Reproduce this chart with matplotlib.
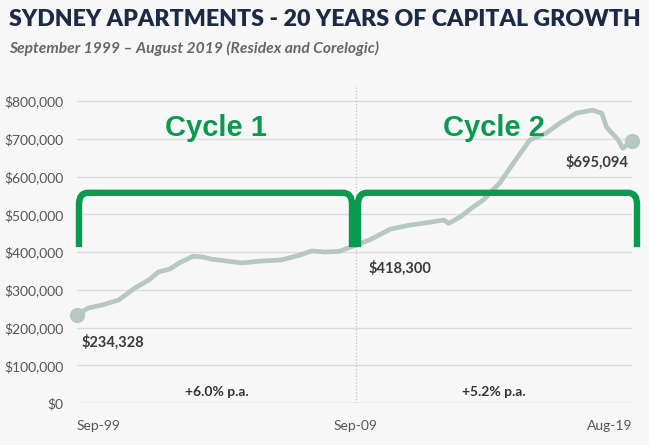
import matplotlib
matplotlib.use("Agg")
import matplotlib.pyplot as plt
import matplotlib.dates as mdates
from matplotlib.path import Path
from matplotlib.patches import PathPatch
import pandas as pd

# ---------------- data ----------------
dates = ["1999-09", "2000-02", "2000-08", "2001-03", "2001-10", "2002-04", "2002-08",
         "2003-01", "2003-05", "2003-11", "2004-03", "2004-07", "2004-10", "2005-08",
         "2006-04", "2007-01", "2007-09", "2008-02", "2008-08", "2009-02", "2009-09",
         "2010-03", "2010-12", "2011-08", "2012-05", "2012-11", "2013-01", "2013-06",
         "2013-11", "2014-04", "2014-08", "2014-11", "2015-05", "2015-12", "2016-07",
         "2017-01", "2017-08", "2018-03", "2018-07", "2018-09", "2019-02", "2019-04",
         "2019-08"]
values = [234328, 252000, 260000, 273000, 305000, 326000, 347000,
          355000, 371000, 389000, 387000, 381000, 379000, 371000,
          376000, 379000, 392000, 403000, 400000, 402000, 418300,
          432000, 461000, 471000, 479000, 485000, 476000, 493000,
          517000, 538000, 564000, 583000, 636000, 697000, 715000,
          742000, 768000, 776000, 768000, 731000, 697000, 675000,
          695094]

x_tick_dates = ["1999-09", "2009-09", "2019-08"]
x_tick_labels = ["Sep-99", "Sep-09", "Aug-19"]
y_ticks = [0, 100000, 200000, 300000, 400000, 500000, 600000, 700000, 800000]

cycle_names = ["Cycle 1", "Cycle 2"]
cycle_starts = ["1999-09", "2009-09"]
cycle_ends = ["2009-09", "2019-08"]
growth_labels = ["+6.0% p.a.", "+5.2% p.a."]

point_labels = ["$234,328", "$418,300", "$695,094"]
point_dates = ["1999-09", "2009-09", "2019-08"]
point_values = [234328, 418300, 695094]

# ---------------- styling ----------------
BG = "#f7f7f7"
LINE = "#b6c9c1"
GREEN = "#0a9a4f"
NAVY = "#1b2b45"
FONT = ["Lato", "DejaVu Sans"]

dt = pd.to_datetime(dates)
xnum = mdates.date2num(dt)
xt = mdates.date2num(pd.to_datetime(x_tick_dates))
pdates = mdates.date2num(pd.to_datetime(point_dates))

fig = plt.figure(figsize=(6.49, 4.45), dpi=100, facecolor=BG)
ax = fig.add_axes([77 / 649, 42 / 445, (632 - 77) / 649, (403 - 86) / 445])
ax.set_facecolor(BG)

ax.set_xlim(xnum[0], xnum[-1])
ax.set_ylim(0, 840000)

for s in ax.spines.values():
    s.set_visible(False)

ax.set_yticks(y_ticks)
ax.set_yticklabels(["${:,.0f}".format(v) for v in y_ticks], fontfamily=FONT,
                   fontsize=10, color="#555555")
ax.tick_params(axis="y", length=0, pad=10)
for v in y_ticks:
    ax.axhline(v, color="#dcdcdc" if v else "#c8c8c8", lw=1.0, zorder=1)

ax.set_xticks(xt)
ax.set_xticklabels(x_tick_labels, fontfamily=FONT, fontsize=10, color="#555555")
ax.tick_params(axis="x", length=0, pad=12)
tl = ax.get_xticklabels()
tl[0].set_ha("left")
tl[2].set_ha("right")

# dotted divider
ax.axvline(xt[1], color="#c4c4c4", lw=0.9, ls=":", zorder=1, ymin=0, ymax=1)

# main line
ax.plot(xnum, values, color=LINE, lw=3.4, solid_capstyle="round",
        solid_joinstyle="round", zorder=3)
ax.plot([xnum[0], xnum[-1]], [values[0], values[-1]], "o", color=LINE,
        ms=10, zorder=4, clip_on=False)

# brackets
def bracket(x0, x1, ybot, ytop, rx, ry):
    verts = [(x0, ybot), (x0, ytop - ry), (x0, ytop), (x0 + rx, ytop),
             (x1 - rx, ytop), (x1, ytop), (x1, ytop - ry), (x1, ybot)]
    codes = [Path.MOVETO, Path.LINETO, Path.CURVE3, Path.CURVE3,
             Path.LINETO, Path.CURVE3, Path.CURVE3, Path.LINETO]
    return Path(verts, codes)

day_px = (632 - 77) / (xnum[-1] - xnum[0])
b_top, b_bot = 557000, 413000
b_x = [(79, 352), (358, 637)]
for (p0, p1) in b_x:
    x0 = xnum[0] + (p0 - 77) / day_px
    x1 = xnum[0] + (p1 - 77) / day_px
    patch = PathPatch(bracket(x0, x1, b_bot, b_top, 9 / day_px, 30000),
                      facecolor="none", edgecolor=GREEN, lw=4.6,
                      capstyle="butt", joinstyle="round", zorder=5, clip_on=False)
    ax.add_patch(patch)

cs = mdates.date2num(pd.to_datetime(cycle_starts))
ce = mdates.date2num(pd.to_datetime(cycle_ends))
for name, a, b in zip(cycle_names, cs, ce):
    ax.text((a + b) / 2, 728000, name, ha="center", va="center",
            fontfamily=["Liberation Sans", "DejaVu Sans"], fontweight="bold",
            fontsize=21, color=GREEN, zorder=6)
for g, a, b in zip(growth_labels, cs, ce):
    ax.text((a + b) / 2, 28000, g, ha="center", va="center", fontfamily=FONT,
            fontweight="bold", fontsize=10, color="#333333", zorder=6)

# point labels
ax.text(pdates[0] + 5 / day_px, point_values[0] - 73000, point_labels[0],
        ha="left", va="center", fontfamily=FONT, fontweight="bold",
        fontsize=10.5, color="#3a3a3a")
ax.text(pdates[1] + 13 / day_px, point_values[1] - 61000, point_labels[1],
        ha="left", va="center", fontfamily=FONT, fontweight="bold",
        fontsize=10.5, color="#3a3a3a")
ax.text(pdates[2] - 4 / day_px, point_values[2] - 57000, point_labels[2],
        ha="right", va="center", fontfamily=FONT, fontweight="bold",
        fontsize=10.5, color="#3a3a3a")

# titles fitted to width
renderer = fig.canvas.get_renderer()
def fitted(txt, x, y, width_px, **kw):
    t = fig.text(x / 649, 1 - y / 445, txt, ha="left", va="center", **kw)
    w = t.get_window_extent(renderer).width
    t.set_fontsize(t.get_fontsize() * width_px / w)
    return t

fitted("SYDNEY APARTMENTS - 20 YEARS OF CAPITAL GROWTH", 9, 20, 631,
       fontfamily=FONT, fontweight="heavy", fontsize=18, color=NAVY)
fitted("September 1999 \u2013 August 2019 (Residex and Corelogic)", 9, 48, 368,
       fontfamily=FONT, fontstyle="italic", fontweight="bold", fontsize=10,
       color="#666666")

fig.savefig("out.png", dpi=100, facecolor=BG)
